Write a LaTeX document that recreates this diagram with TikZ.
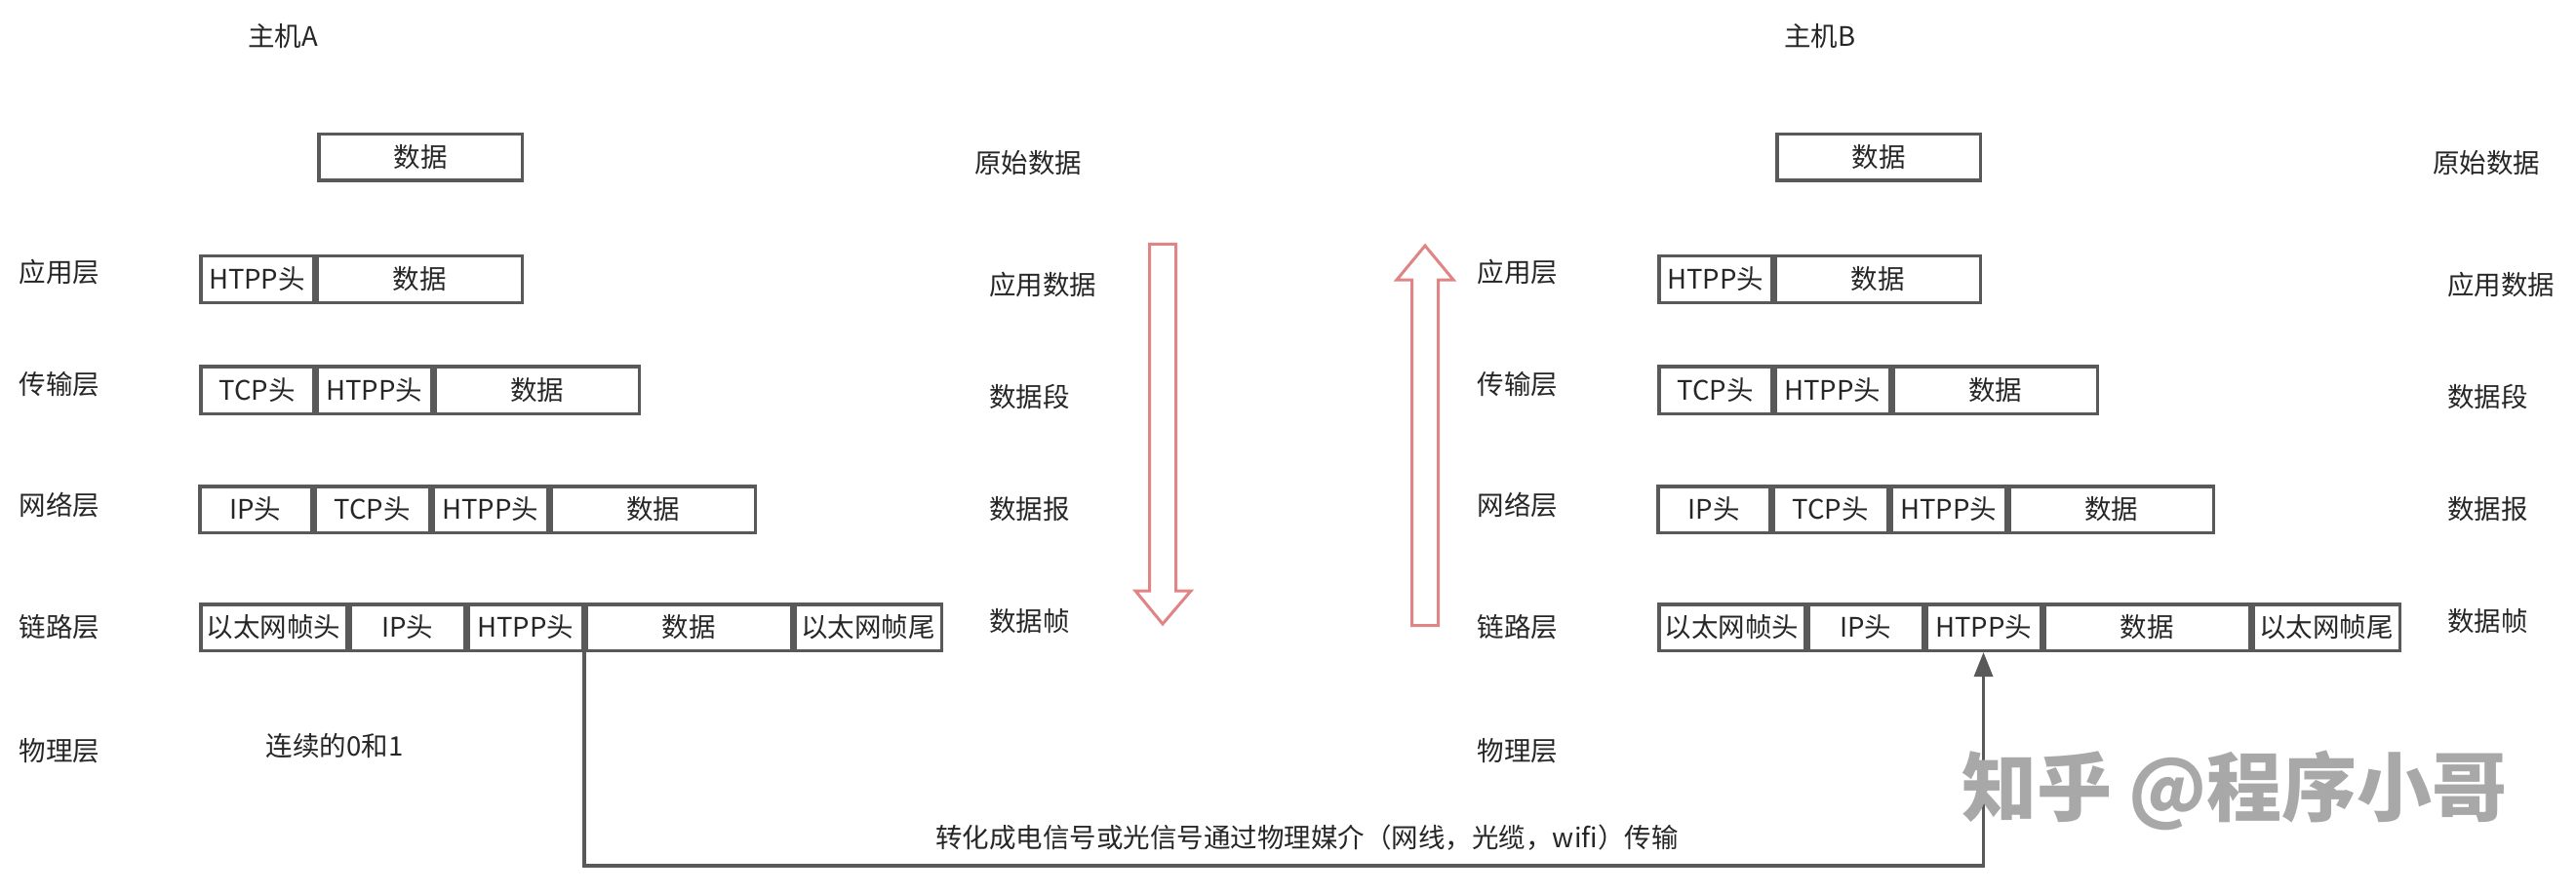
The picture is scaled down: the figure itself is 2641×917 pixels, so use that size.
\documentclass[tikz,border=0pt]{standalone}
\usepackage{fontspec}
\setmainfont{Noto Sans CJK SC}
\usetikzlibrary{arrows.meta}
\definecolor{boxline}{HTML}{595959}
\definecolor{txt}{HTML}{262626}
\definecolor{pinkarrow}{HTML}{E08585}
\definecolor{wm}{HTML}{A8A8A8}
\tikzset{
  cell/.style={draw=boxline, line width=3.5pt, fill=white, inner sep=0pt, text=txt,
    font=\fontsize{27.5}{30}\selectfont},
  lbl/.style={text=txt, inner sep=0pt, font=\fontsize{27.5}{30}\selectfont},
  bigarrow/.style={draw=pinkarrow, line width=3pt, line join=miter, fill=white},
  conn/.style={draw=boxline, line width=3.3pt},
}
\newcommand\cellbox[6]{%
  \node[cell, minimum width={#3pt-#2pt-3.5pt}, minimum height={#5pt-#4pt-3.5pt}]
    (#1) at ({(#2+#3)/2},{(#4+#5)/2}) {#6};}
\newcommand\hoststack[1]{%
  \cellbox{#1-o}{325}{537}{136}{187}{数据}
  \cellbox{#1-a1}{204}{323}{261}{312}{HTPP头}
  \cellbox{#1-a2}{323}{537}{261}{312}{数据}
  \cellbox{#1-t1}{204}{323}{374}{426}{TCP头}
  \cellbox{#1-t2}{323}{444}{374}{426}{HTPP头}
  \cellbox{#1-t3}{444}{657}{374}{426}{数据}
  \cellbox{#1-n1}{203}{321}{497}{548}{IP头}
  \cellbox{#1-n2}{321}{442}{497}{548}{TCP头}
  \cellbox{#1-n3}{442}{563}{497}{548}{HTPP头}
  \cellbox{#1-n4}{563}{776}{497}{548}{数据}
  \cellbox{#1-l1}{204}{357}{618}{669}{以太网帧头}
  \cellbox{#1-l2}{357}{478}{618}{669}{IP头}
  \cellbox{#1-l3}{478}{599}{618}{669}{HTPP头}
  \cellbox{#1-l4}{599}{813}{618}{669}{数据}
  \cellbox{#1-l5}{813}{967}{618}{669}{以太网帧尾}
  \node[lbl] (#1-Lapp) at (61,279) {应用层};
  \node[lbl] (#1-Ltrans) at (61,394) {传输层};
  \node[lbl] (#1-Lnet) at (61,518) {网络层};
  \node[lbl] (#1-Llink) at (61,643) {链路层};
  \node[lbl] (#1-Lphy) at (61,770) {物理层};
  \node[lbl, anchor=west] (#1-Rorig) at (999,167) {原始数据};
  \node[lbl, anchor=west] (#1-Rapp) at (1014,292) {应用数据};
  \node[lbl, anchor=west] (#1-Rseg) at (1014,407) {数据段};
  \node[lbl, anchor=west] (#1-Rdgram) at (1014,522) {数据报};
  \node[lbl, anchor=west] (#1-Rframe) at (1014,637) {数据帧};
}
\begin{document}
\begin{tikzpicture}[x=1pt, y=-1pt]
\useasboundingbox[fill=white] (0,0) rectangle (2641,917);
\hoststack{A}
\begin{scope}[xshift=1495pt]
\hoststack{B}
\end{scope}
\node[lbl] (hostA) at (290,37) {主机A};
\node[lbl] (hostB) at (1866,37) {主机B};
\node[lbl] (bits) at (343,765) {连续的0和1};
% big hollow arrows
\draw[bigarrow] (1178.5,250.5) -- (1205.5,250.5) -- (1205.5,606) -- (1221,606)
  -- (1192,640) -- (1164,606) -- (1178.5,606) -- cycle;
\draw[bigarrow] (1447.5,641.5) -- (1474.5,641.5) -- (1474.5,287) -- (1490,287)
  -- (1461,252) -- (1432,287) -- (1447.5,287) -- cycle;
% transmission connector
\draw[conn, -{Triangle[length=25pt,width=19pt]}]
  (A-l3.south east) -- ++(0,219) coordinate (bend) -| (B-l3.south);
\node[lbl] (medium) at (1340,859) {转化成电信号或光信号通过物理媒介（网线，光缆，wifi）传输};
% watermark
\node[inner sep=0pt, text=wm, font=\fontsize{77}{84}\selectfont\bfseries] (wmark) at (2291,811) {知乎 @程序小哥};
\end{tikzpicture}
\end{document}
